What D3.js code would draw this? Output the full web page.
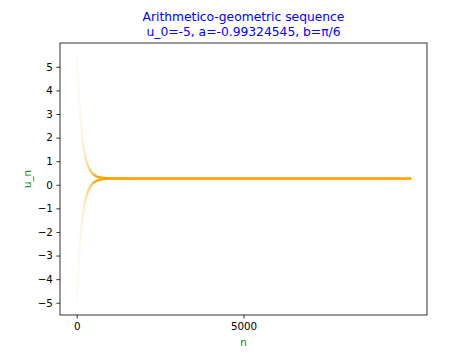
<!DOCTYPE html>
<html>
<head>
<meta charset="utf-8">
<script src="https://cdn.jsdelivr.net/npm/d3@7"></script>
<style>
  body { margin: 0; background: #fff; }
  svg { font-family: "DejaVu Sans", sans-serif; }
</style>
</head>
<body>
<div class="container"></div>
<script>
const width = 474;
const height = 355;
const margin = { top: 43, right: 47, bottom: 40, left: 60 };
const lineColor = '#ffa500';

// envelope of the alternating sequence
const upperN = [1, 50, 100, 150, 200, 250, 300, 400, 500, 600, 700, 800, 1000, 2000, 4000, 6000, 8000, 9999];
const upperVals = [5.49, 4.01, 2.94, 2.17, 1.62, 1.23, 0.95, 0.61, 0.44, 0.35, 0.31, 0.29, 0.27, 0.263, 0.263, 0.263, 0.263, 0.263];
const lowerN = [0, 50, 100, 150, 200, 250, 300, 400, 500, 600, 700, 800, 1000, 2000, 4000, 6000, 8000, 9998];
const lowerVals = [-5.0, -3.49, -2.41, -1.64, -1.09, -0.70, -0.43, -0.09, 0.09, 0.17, 0.22, 0.24, 0.26, 0.263, 0.263, 0.263, 0.263, 0.263];

const xTicks = [0, 5000];
const yTicks = [-5, -4, -3, -2, -1, 0, 1, 2, 3, 4, 5];
const titleLines = ['Arithmetico-geometric sequence', 'u_0=-5, a=-0.99324545, b=π/6'];

// how dense the markers pile up along n (lighter where the curve is steep)
const fadeStops = [[0, 0.04], [100, 0.08], [200, 0.18], [300, 0.35], [400, 0.55], [500, 0.78], [600, 1]];

const svg = d3.select('.container')
    .append('svg')
    .attr('width', width)
    .attr('height', height);

const x = d3.scaleLinear()
    .domain([-500, 10499])
    .range([margin.left, width - margin.right]);
const y = d3.scaleLinear()
    .domain([-5.52, 6.01])
    .range([height - margin.bottom, margin.top]);

const grad = svg.append('defs')
    .append('linearGradient')
    .attr('id', 'fade')
    .attr('gradientUnits', 'userSpaceOnUse')
    .attr('x1', x(0))
    .attr('x2', x(600))
    .attr('y1', 0)
    .attr('y2', 0);
grad.selectAll('stop')
    .data(fadeStops)
    .enter()
    .append('stop')
    .attr('offset', d => d[0] / 600)
    .attr('stop-color', lineColor)
    .attr('stop-opacity', d => d[1]);

const line = d3.line()
    .x(d => x(d[0]))
    .y(d => y(d[1]))
    .curve(d3.curveMonotoneX);

[[upperN, upperVals], [lowerN, lowerVals]].forEach(([ns, vs]) => {
    svg.append('path')
        .datum(ns.map((n, i) => [n, vs[i]]))
        .attr('d', line)
        .attr('fill', 'none')
        .attr('stroke', 'url(#fade)')
        .attr('stroke-width', 2.4)
        .attr('stroke-linecap', 'round');
});

const xAxis = svg.append('g')
    .attr('transform', `translate(0,${height - margin.bottom})`)
    .call(d3.axisBottom(x).tickValues(xTicks).tickFormat(d3.format('d')).tickSize(3.6).tickPadding(3.6));
const yAxis = svg.append('g')
    .attr('transform', `translate(${margin.left},0)`)
    .call(d3.axisLeft(y).tickValues(yTicks).tickFormat(d => d < 0 ? '\u2212' + Math.abs(d) : d).tickSize(3.6).tickPadding(3.6));

[xAxis, yAxis].forEach(g => {
    g.select('.domain').remove();
    g.selectAll('line').attr('stroke', '#000').attr('stroke-width', 0.8);
    g.selectAll('text').attr('font-size', 10.3).attr('fill', '#000').attr('font-family', '"DejaVu Sans", sans-serif');
});

svg.append('rect')
    .attr('x', margin.left)
    .attr('y', margin.top)
    .attr('width', width - margin.left - margin.right)
    .attr('height', height - margin.top - margin.bottom)
    .attr('fill', 'none')
    .attr('stroke', '#000')
    .attr('stroke-width', 0.8);

svg.selectAll('.title')
    .data(titleLines)
    .enter()
    .append('text')
    .attr('class', 'title')
    .attr('x', (margin.left + width - margin.right) / 2)
    .attr('y', (d, i) => 21 + i * 15)
    .attr('text-anchor', 'middle')
    .attr('font-size', 12.3)
    .attr('fill', 'blue')
    .text(d => d);

svg.append('text')
    .attr('x', (margin.left + width - margin.right) / 2)
    .attr('y', 346)
    .attr('text-anchor', 'middle')
    .attr('font-size', 10.3)
    .attr('fill', 'green')
    .text('n');

svg.append('text')
    .attr('transform', `translate(31,${(margin.top + height - margin.bottom) / 2}) rotate(-90)`)
    .attr('text-anchor', 'middle')
    .attr('font-size', 10.3)
    .attr('fill', 'green')
    .text('u_n');
</script>
</body>
</html>
